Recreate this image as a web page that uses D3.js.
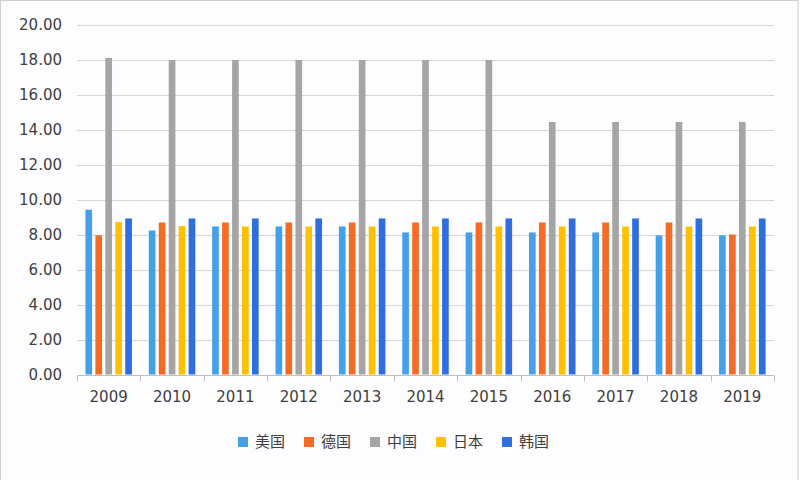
<!DOCTYPE html>
<html>
<head>
<meta charset="utf-8">
<script src="https://cdn.jsdelivr.net/npm/d3@7/dist/d3.min.js"></script>
<style>
  html, body { margin: 0; padding: 0; background: #fdfcfe; }
  svg { display: block; }
</style>
</head>
<body>
<svg id="chart" width="800" height="480"></svg>
<script>
const years = ["2009","2010","2011","2012","2013","2014","2015","2016","2017","2018","2019"];
const seriesNames = ["美国","德国","中国","日本","韩国"];
const usa     = [9.43, 8.24, 8.47, 8.47, 8.47, 8.13, 8.13, 8.13, 8.13, 7.96, 7.96];
const germany = [7.97, 8.70, 8.70, 8.70, 8.70, 8.70, 8.70, 8.70, 8.70, 8.70, 8.01];
const china   = [18.12, 18.0, 18.0, 18.0, 18.0, 18.0, 18.0, 14.45, 14.45, 14.45, 14.45];
const japan   = [8.72, 8.49, 8.47, 8.47, 8.47, 8.47, 8.47, 8.47, 8.47, 8.47, 8.47];
const korea   = [8.93, 8.93, 8.93, 8.93, 8.93, 8.93, 8.93, 8.93, 8.93, 8.93, 8.93];
const yTicks  = [0, 2, 4, 6, 8, 10, 12, 14, 16, 18, 20];
const colors  = ["#45a0e8", "#f46b25", "#a5a5a5", "#ffc000", "#2f6ee0"];

const seriesValues = [usa, germany, china, japan, korea];
const svg = d3.select("#chart");

svg.append("rect").attr("x", 0.5).attr("y", 0.5).attr("width", 797.5).attr("height", 490)
  .attr("fill", "#fdfcfe").attr("stroke", "#d0d0d0");

const pLeft = 77, pRight = 774, pTop = 25, pBottom = 374.5;
const x0 = d3.scaleBand().domain(years).range([pLeft, pRight]).padding(0);
const y = d3.scaleLinear().domain([0, 20]).range([pBottom, pTop]);
const groupW = 48.5;
const x1 = d3.scaleBand().domain(seriesNames).range([-groupW/2, groupW/2]).paddingInner(0.33).paddingOuter(0.1);

// gridlines
svg.append("g").selectAll("line").data(yTicks.filter(d => d > 0)).join("line")
  .attr("x1", pLeft).attr("x2", pRight)
  .attr("y1", d => Math.round(y(d)) + 0.5).attr("y2", d => Math.round(y(d)) + 0.5)
  .attr("stroke", "#d6d6d6").attr("stroke-width", 1);

// y labels
svg.append("g").selectAll("text").data(yTicks).join("text")
  .attr("x", 62).attr("y", d => y(d)).attr("dy", "0.36em")
  .attr("text-anchor", "end")
  .attr("font-family", "DejaVu Sans, sans-serif").attr("font-size", 15)
  .attr("fill", "#404040")
  .text(d => d3.format(".2f")(d));

// bars
const groups = svg.append("g").selectAll("g").data(years).join("g")
  .attr("transform", d => `translate(${x0(d) + x0.bandwidth()/2},0)`);
groups.selectAll("rect").data((yr, i) => seriesNames.map((s, k) => ({s, k, v: seriesValues[k][i]}))).join("rect")
  .attr("x", d => x1(d.s)).attr("width", x1.bandwidth())
  .attr("y", d => y(d.v)).attr("height", d => pBottom - y(d.v))
  .attr("fill", d => colors[d.k]);

// x axis
const gx = svg.append("g").attr("transform", `translate(0,${Math.round(pBottom) + 0.5})`);
gx.append("line").attr("x1", pLeft).attr("x2", pRight).attr("stroke", "#bfbfbf");
gx.selectAll("line.t").data(d3.range(years.length + 1)).join("line").attr("class", "t")
  .attr("x1", i => Math.round(pLeft + i * x0.step()) + 0.5).attr("x2", i => Math.round(pLeft + i * x0.step()) + 0.5)
  .attr("y1", 0).attr("y2", 6).attr("stroke", "#bfbfbf");
gx.selectAll("text").data(years).join("text")
  .attr("x", d => x0(d) + x0.bandwidth()/2).attr("y", 26)
  .attr("text-anchor", "middle")
  .attr("font-family", "DejaVu Sans, sans-serif").attr("font-size", 15)
  .attr("fill", "#404040").text(d => d);

// legend
const legendX = [238, 304, 370, 436, 502];
const lg = svg.append("g").selectAll("g").data(seriesNames).join("g")
  .attr("transform", (d, i) => `translate(${legendX[i]},437)`);
lg.append("rect").attr("x", 0).attr("y", 0).attr("width", 10).attr("height", 10)
  .attr("fill", (d, i) => colors[i]);
lg.append("text").attr("x", 17).attr("y", 5).attr("dy", "0.36em")
  .attr("font-family", "'Noto Sans CJK SC', sans-serif").attr("font-size", 15)
  .attr("fill", "#404040").text(d => d);
</script>
</body>
</html>
